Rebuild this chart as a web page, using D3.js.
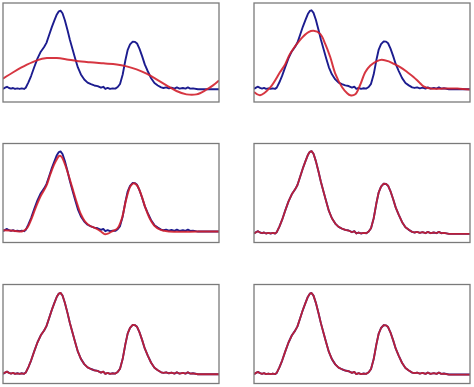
<!DOCTYPE html>
<html lang="en">
<head>
    <meta charset="UTF-8">
    <title>Fit panels</title>
    <script src="https://cdnjs.cloudflare.com/ajax/libs/d3/7.9.0/d3.min.js"></script>
    <style>
        body { margin: 0; background: #fff; }
    </style>
</head>
<body>
<svg id="chart" width="474" height="387"></svg>
<script>
    // measured trace: position along the record (0-100) and height
    const sigX = [0, 0.93, 1.86, 2.79, 3.72, 4.64, 5.57, 6.66, 7.74, 8.67, 9.75, 10.53, 11.76, 13.0, 14.4,
        15.94, 17.49, 19.04, 20.12, 21.36, 22.6, 23.84, 24.92, 25.85, 26.63, 27.55, 28.64, 29.88, 30.96,
        32.2, 33.44, 34.67, 36.07, 37.62, 39.16, 40.71, 42.26, 43.81, 45.36, 46.44, 47.37, 48.45, 49.54,
        50.77, 52.01, 53.1, 54.18, 55.42, 56.66, 57.74, 58.82, 60.06, 61.15, 62.07, 63.16, 64.4, 65.63,
        67.03, 68.58, 70.12, 71.67, 73.22, 74.3, 75.54, 76.78, 78.02, 79.41, 80.5, 81.73, 83.28, 84.52,
        85.6, 86.69, 87.93, 90.25, 92.57, 95.67, 100];
    const sigV = [0.091, 0.104, 0.114, 0.101, 0.094, 0.101, 0.091, 0.097, 0.091, 0.097, 0.091, 0.104, 0.161,
        0.228, 0.319, 0.413, 0.487, 0.537, 0.581, 0.664, 0.748, 0.822, 0.883, 0.916, 0.923, 0.896, 0.822,
        0.715, 0.614, 0.513, 0.413, 0.319, 0.245, 0.191, 0.158, 0.141, 0.128, 0.121, 0.104, 0.114, 0.091,
        0.101, 0.091, 0.097, 0.094, 0.111, 0.144, 0.245, 0.396, 0.507, 0.564, 0.594, 0.591, 0.574, 0.520,
        0.440, 0.352, 0.279, 0.205, 0.154, 0.128, 0.107, 0.101, 0.107, 0.097, 0.104, 0.094, 0.107, 0.094,
        0.101, 0.094, 0.107, 0.094, 0.097, 0.087, 0.087, 0.087, 0.087];

    // fitted curves (red), first three panels
    const fit1X = [0, 4.92, 11.08, 15.69, 20.31, 24.92, 29.54, 34.15, 40.31, 46.46, 52.62, 57.23, 61.85,
        66.46, 71.08, 75.69, 80.31, 84.92, 89.54, 94.15, 97.23, 100];
    const fit1V = [0.200, 0.271, 0.349, 0.395, 0.419, 0.419, 0.405, 0.388, 0.374, 0.363, 0.352, 0.331, 0.299,
        0.253, 0.193, 0.129, 0.069, 0.033, 0.033, 0.083, 0.129, 0.182];

    const fit2X = [0, 2.79, 7.43, 12.07, 14.4, 16.72, 21.36, 25.23, 27.55, 30.65, 32.97, 35.29, 37.62, 40.71,
        43.03, 44.58, 46.9, 49.07, 51.55, 53.87, 56.97, 59.13, 62.38, 64.71, 67.65, 70.9, 73.84, 76.32,
        78.48, 81.73, 87.93, 94.12, 100];
    const fit2V = [0.058, 0.023, 0.104, 0.269, 0.350, 0.462, 0.610, 0.691, 0.705, 0.673, 0.568, 0.428, 0.252,
        0.111, 0.048, 0.023, 0.034, 0.129, 0.269, 0.339, 0.385, 0.399, 0.382, 0.357, 0.322, 0.269, 0.217,
        0.164, 0.118, 0.094, 0.094, 0.094, 0.083];

    const fit3X = [0, 5, 9, 11, 13, 15, 17.5, 20, 22, 24, 26, 27, 28.5, 30, 32, 34, 36, 38, 40, 43, 45.5,
        47, 48.5, 50.5, 53, 55, 57, 59, 60.5, 62, 64, 66, 68, 70, 72.5, 76, 82, 90, 100];
    const fit3V = [0.10, 0.095, 0.09, 0.12, 0.21, 0.33, 0.46, 0.56, 0.69, 0.80, 0.875, 0.87, 0.80, 0.70,
        0.55, 0.40, 0.27, 0.19, 0.15, 0.12, 0.085, 0.06, 0.065, 0.09, 0.12, 0.22, 0.42, 0.56, 0.59, 0.57,
        0.47, 0.33, 0.22, 0.15, 0.11, 0.09, 0.085, 0.087, 0.087];

    // later panels: fit lies on the trace
    const fitsX = [fit1X, fit2X, fit3X, sigX, sigX, sigX];
    const fitsV = [fit1V, fit2V, fit3V, sigV, sigV, sigV];
    const yDomains = [[-0.048, 1.005], [-0.048, 1.0], [-0.027, 1.005], [0, 1], [-0.008, 1.009], [-0.005, 1.01]];

    var svg = d3.select("#chart");
    var boxW = 216, boxH = 99;
    var colX = [3, 254];
    var rowY = [3, 143.5, 284.5];

    fitsV.forEach(function (fv, i) {
        var px = colX[i % 2], py = rowY[Math.floor(i / 2)];
        var x = d3.scaleLinear().domain([0, 100]).range([px, px + boxW]);
        var y = d3.scaleLinear().domain(yDomains[i]).range([py + boxH, py]);

        svg.append("clipPath").attr("id", "clip" + i)
            .append("rect").attr("x", px).attr("y", py).attr("width", boxW).attr("height", boxH);

        var g = svg.append("g").attr("clip-path", "url(#clip" + i + ")");

        var raw = d3.line()
            .x(function (d, k) { return x(sigX[k]); })
            .y(function (d) { return y(d); });
        g.append("path")
            .attr("d", raw(sigV))
            .attr("fill", "none")
            .attr("stroke", "#1c1c8f")
            .attr("stroke-width", 1.9)
            .attr("stroke-linejoin", "round");

        var fx = fitsX[i];
        var fit = d3.line()
            .x(function (d, k) { return x(fx[k]); })
            .y(function (d) { return y(d); })
            .curve(i < 3 ? d3.curveCatmullRom : d3.curveLinear);
        g.append("path")
            .attr("d", fit(fv))
            .attr("fill", "none")
            .attr("stroke", "#d2202c")
            .attr("stroke-opacity", i < 3 ? 0.9 : 0.85)
            .attr("stroke-width", i < 3 ? 2 : 1.8)
            .attr("stroke-linejoin", "round");

        svg.append("rect")
            .attr("x", px).attr("y", py)
            .attr("width", boxW).attr("height", boxH)
            .attr("fill", "none")
            .attr("stroke", "#7a7a7a")
            .attr("stroke-width", 1.3);
    });
</script>
</body>
</html>
